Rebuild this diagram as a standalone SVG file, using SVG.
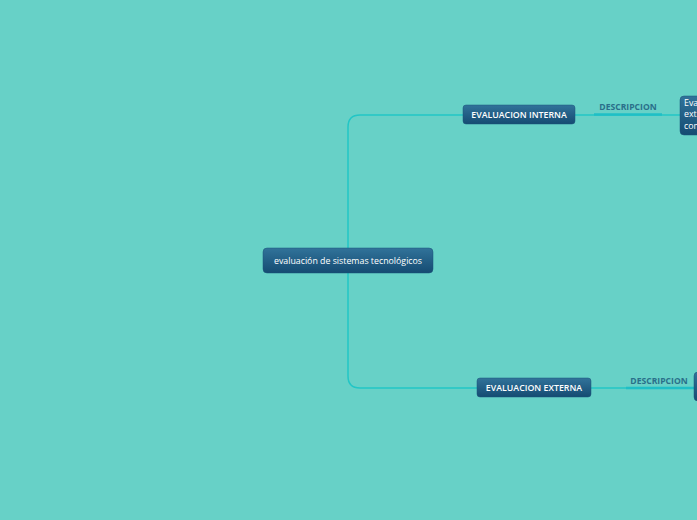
<svg xmlns="http://www.w3.org/2000/svg" width="697" height="520" viewBox="0 0 697 520">
<defs>
<linearGradient id="g" x1="0" y1="0" x2="0" y2="1">
<stop offset="0" stop-color="#31739a"/>
<stop offset="1" stop-color="#154b72"/>
</linearGradient>
<style>
.node{fill:url(#g);stroke:#1a5478;stroke-width:0.5}
.t{font-family:"Open Sans","Liberation Sans",sans-serif;fill:#ffffff;font-size:8.8px}
.tb{font-family:"Open Sans","Liberation Sans",sans-serif;fill:#ffffff;font-size:8.8px;font-weight:600}
.lbl{font-family:"Open Sans","Liberation Sans",sans-serif;fill:#2a6f8a;font-size:8.6px;font-weight:bold}
.c{fill:none;stroke:#22c6c6;stroke-width:1.5}
.u{fill:none;stroke:#1fbfc6;stroke-width:2.5}
</style>
</defs>
<rect width="697" height="520" fill="#67d1c7"/>
<g id="connectors">
<path class="c" d="M463 115 H360 Q348 115 348 127 V376 Q348 388 360 388 H477"/>
<path class="c" d="M575 115 H680"/>
<path class="c" d="M591 388 H694"/>
<path class="u" d="M594 114.5 H662"/>
<path class="u" d="M626 388 H694"/>
<text class="lbl" x="628" y="110" text-anchor="middle">DESCRIPCION</text>
<text class="lbl" x="659" y="384" text-anchor="middle">DESCRIPCION</text>
</g>
<g id="central">
<rect class="node" x="263" y="248" width="170" height="25" rx="4"/>
<text class="t" x="348" y="264" text-anchor="middle">evaluación de sistemas tecnológicos</text>
</g>
<g id="interna">
<rect class="node" x="463" y="105" width="112" height="19" rx="3"/>
<text class="tb" x="519" y="118" text-anchor="middle">EVALUACION INTERNA</text>
</g>
<g id="externa">
<rect class="node" x="477" y="378" width="114" height="19" rx="3"/>
<text class="tb" x="534" y="391" text-anchor="middle">EVALUACION EXTERNA</text>
</g>
<g id="desc-interna">
<rect class="node" x="680" y="96" width="30" height="39" rx="4"/>
<text class="t" x="684" y="106">Eva</text>
<text class="t" x="684" y="117">ext</text>
<text class="t" x="684" y="129">con</text>
</g>
<g id="desc-externa">
<rect class="node" x="694" y="372" width="20" height="29" rx="4"/>
</g>
</svg>
